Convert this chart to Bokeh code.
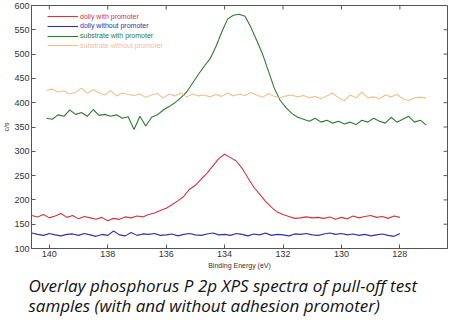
import numpy as np
from bokeh.plotting import figure
from bokeh.models import Legend, LegendItem, Range1d, Title
from bokeh.embed import file_html
from bokeh.resources import INLINE

# ---- data ----
dolly_with = [168, 165, 170, 163, 167, 172, 164, 168, 161, 166, 163, 160, 164, 157, 162, 160,
              165, 163, 167, 165, 170, 173, 178, 183, 190, 198, 207, 222, 230, 243, 255, 270,
              285, 294, 287, 280, 265, 245, 226, 212, 197, 185, 175, 170, 166, 162, 163, 165,
              163, 164, 162, 165, 160, 164, 161, 167, 163, 166, 168, 164, 166, 162, 167, 164]
dolly_without = [132, 129, 127, 131, 128, 126, 129, 130, 127, 131, 128, 125, 129, 127, 136, 128,
                 126, 133, 127, 130, 129, 131, 127, 128, 130, 126, 129, 131, 128, 127, 130, 132,
                 128, 129, 127, 131, 129, 126, 130, 128, 132, 127, 129, 128, 126, 130, 129, 131,
                 128, 127, 130, 132, 129, 131, 128, 130, 127, 129, 126, 128, 130, 127, 125, 131]
sub_with = [368, 366, 375, 372, 385, 376, 380, 372, 386, 374, 376, 372, 375, 368, 371, 345,
            372, 352, 370, 375, 385, 392, 400, 410, 422, 440, 458, 475, 490, 515, 545, 572,
            580, 582, 578, 555, 528, 500, 465, 430, 405, 390, 378, 370, 366, 362, 368, 360,
            364, 358, 362, 356, 360, 355, 364, 360, 368, 362, 358, 370, 360, 366, 372, 360,
            364, 354]
sub_without = [425, 428, 422, 424, 418, 421, 430, 419, 427, 420, 416, 425, 414, 420, 417, 415,
               418, 411, 416, 419, 410, 418, 414, 420, 412, 418, 414, 416, 412, 417, 413, 420,
               414, 418, 415, 421, 416, 411, 419, 413, 410, 414, 416, 412, 415, 410, 413, 408,
               414, 420, 410, 404, 416, 410, 422, 410, 412, 408, 416, 412, 417, 408, 404, 410,
               411, 410]
dolly_range = (140.6, 128.0)
sub_range = (140.1, 127.1)
labels = ["dolly with promoter", "dolly without promoter",
          "substrate with promoter", "substrate without promoter"]
colors = ["#d2343f", "#2f32a8", "#2e7a30", "#f2c08f"]
y_ticks = [100, 150, 200, 250, 300, 350, 400, 450, 500, 550, 600]
x_ticks = [140, 138, 136, 134, 132, 130, 128]
caption = ("Overlay phosphorus  P 2p XPS spectra of pull-off test\n"
           "samples (with and without adhesion promoter)")

x_d = np.linspace(dolly_range[0], dolly_range[1], len(dolly_with))
x_s = np.linspace(sub_range[0], sub_range[1], len(sub_with))

X0, X1, Y0, Y1 = 140.61, 126.37, 100, 600
FONT = "Liberation Sans"
p = figure(width=474, height=328, output_backend="svg", toolbar_location=None,
           x_range=Range1d(X0, X1), y_range=Range1d(Y0, Y1),
           min_border_left=27, min_border_right=27, min_border_top=5, min_border_bottom=80)
p.grid.visible = False
p.outline_line_color = "#555555"
p.background_fill_color = "white"

series = [(x_d, dolly_with), (x_d, dolly_without), (x_s, sub_with), (x_s, sub_without)]
renderers = []
for (xx, yy), c in zip(series, colors):
    renderers.append(p.line(xx, yy, line_color=c, line_width=1.1))

# inward ticks on the top and right edges of the box (MATLAB style)
fw, fh = 420.0, 243.0
tx = 4 * abs(X1 - X0) / fw
ty = 4 * (Y1 - Y0) / fh
p.segment(x0=x_ticks, x1=x_ticks, y0=[Y1] * len(x_ticks), y1=[Y1 - ty] * len(x_ticks),
          line_color="#555555", line_width=1)
p.segment(x0=[X1] * len(y_ticks), x1=[X1 + tx] * len(y_ticks), y0=y_ticks, y1=y_ticks,
          line_color="#555555", line_width=1)

for ax in (p.xaxis[0], p.yaxis[0]):
    ax.major_tick_in = 4
    ax.major_tick_out = 0
    ax.minor_tick_in = 0
    ax.minor_tick_out = 0
    ax.axis_line_color = "#555555"
    ax.major_tick_line_color = "#555555"
    ax.major_label_text_font = FONT
    ax.major_label_text_font_size = "9px"
    ax.major_label_text_color = "#333333"
    ax.axis_label_text_font = FONT
    ax.axis_label_text_font_size = "7px"
    ax.axis_label_text_font_style = "normal"
    ax.axis_label_text_color = "#333333"
p.xaxis[0].ticker = x_ticks
p.yaxis[0].ticker = y_ticks
p.xaxis[0].axis_label = "Binding Energy (eV)"
p.xaxis[0].axis_label_standoff = 2
p.xaxis[0].major_label_standoff = 2
p.yaxis[0].axis_label = "c/s"
p.yaxis[0].axis_label_standoff = 1
p.yaxis[0].major_label_standoff = 2

# one legend per series so each label takes its series colour
row_y = [228, 218.5, 208.5, 199]
for r, lab, c, yy in zip(renderers, labels, colors, row_y):
    lg = Legend(items=[LegendItem(label=lab, renderers=[r])], location=(16, yy),
                border_line_color=None, background_fill_alpha=0, padding=0, margin=0,
                glyph_width=31, glyph_height=8, label_height=8, label_standoff=2,
                label_text_font=FONT, label_text_font_size="7px", label_text_color=c)
    p.add_layout(lg)

cap = Title(text=caption, align="left",
            text_font="Open Sans", text_font_style="italic", text_font_size="17px",
            text_color="#111111", offset=-3, standoff=0, text_line_height=0.9)
p.add_layout(cap, "below")

open("out.html", "w").write(file_html(p, INLINE))
